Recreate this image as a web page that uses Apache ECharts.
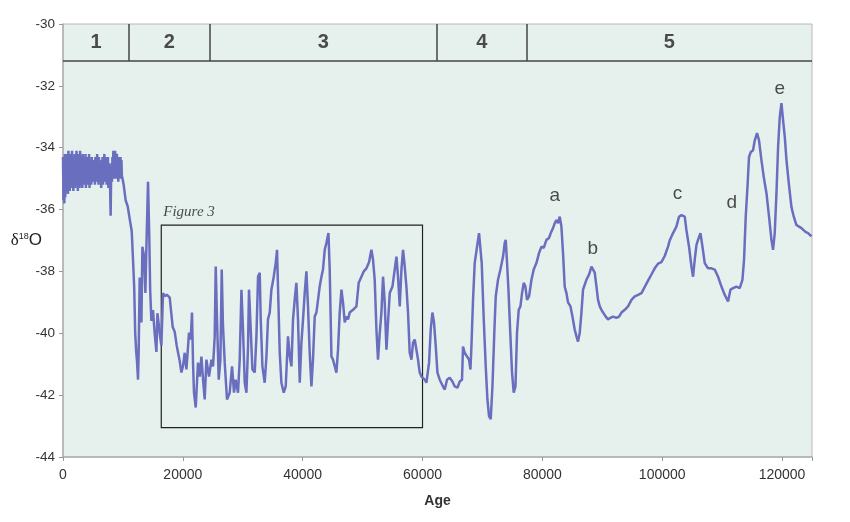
<!DOCTYPE html>
<html>
<head>
<meta charset="utf-8">
<script src="https://cdn.jsdelivr.net/npm/echarts@6/dist/echarts.min.js"></script>
<style>
html,body{margin:0;padding:0;background:#fff;}
#chart{width:850px;height:522px;}
</style>
</head>
<body>
<div id="chart"></div>
<script>
// Age (years) vs d18O record
const record = [
[0,-34.3],[75,-35.7],[150,-34.4],[225,-35.8],[300,-34.2],[375,-35.6],[450,-34.5],[525,-35.4],[600,-34.2],[675,-35.3],
[750,-34.4],[825,-35.5],[900,-34.1],[975,-35.2],[1050,-34.3],[1125,-35.4],[1200,-34.2],[1275,-35.1],[1350,-34.5],[1425,-35.3],
[1500,-34.1],[1575,-35.0],[1650,-34.3],[1725,-35.4],[1800,-34.4],[1875,-35.2],[1950,-34.2],[2025,-35.3],[2100,-34.5],[2175,-35.0],
[2250,-34.1],[2325,-35.2],[2400,-34.3],[2475,-35.4],[2550,-34.2],[2625,-35.1],[2700,-34.4],[2775,-35.3],[2850,-34.1],[2925,-35.0],
[3000,-34.3],[3075,-35.2],[3150,-34.5],[3225,-35.3],[3300,-34.2],[3375,-35.0],[3450,-34.4],[3525,-35.2],[3600,-34.3],[3675,-35.1],
[3750,-34.2],[3825,-35.3],[3900,-34.5],[3975,-35.0],[4050,-34.3],[4125,-35.2],[4200,-34.4],[4275,-35.1],[4350,-34.2],[4425,-35.3],
[4500,-34.6],[4575,-35.0],[4650,-34.4],[4725,-35.2],[4800,-34.3],[4875,-34.9],[4950,-34.5],[5025,-35.1],[5100,-34.4],[5175,-35.0],
[5250,-34.6],[5325,-35.2],[5400,-34.3],[5475,-34.9],[5550,-34.5],[5625,-35.1],[5700,-34.2],[5775,-35.0],[5850,-34.4],[5925,-35.2],
[6000,-34.3],[6075,-34.9],[6150,-34.5],[6225,-35.1],[6300,-34.6],[6375,-35.3],[6450,-34.4],[6525,-35.0],[6600,-34.3],[6675,-35.2],
[6750,-34.5],[6825,-34.9],[6900,-34.2],[6975,-35.1],[7050,-34.4],[7125,-35.0],[7200,-34.3],[7275,-35.2],[7350,-34.5],[7425,-35.0],
[7500,-34.3],[7575,-35.3],[7650,-34.5],[7725,-35.1],[7800,-34.6],[7875,-35.4],[7950,-36.2],[8025,-35.0],[8100,-34.5],[8175,-35.1],
[8250,-34.3],[8325,-35.0],[8400,-34.1],[8475,-34.9],[8550,-34.2],[8625,-35.0],[8700,-34.1],[8775,-34.8],[8850,-34.3],[8925,-35.0],
[9000,-34.2],[9075,-34.9],[9150,-34.4],[9225,-35.1],[9300,-34.3],[9375,-34.9],[9450,-34.4],[9525,-35.0],[9600,-34.3],[9675,-34.8],
[9750,-34.4],[9825,-34.9],
[10130,-35.2],[10460,-35.7],[10800,-35.9],[11130,-36.3],[11470,-36.7],[11680,-37.6],[11880,-38.5],[12050,-40.0],[12220,-40.6],
[12350,-40.9],[12520,-41.5],[12630,-40.6],[12800,-38.2],[13090,-39.65],[13250,-37.2],[13520,-37.5],[13750,-38.7],[13920,-37.2],[14190,-35.1],
[14390,-36.8],[14550,-38.6],[14750,-39.6],[15020,-39.25],[15300,-40.0],[15590,-40.6],[15760,-39.35],[15970,-39.7],[16140,-40.0],[16420,-40.4],
[16690,-38.7],[16970,-38.8],[17310,-38.75],[17810,-38.85],[18310,-39.8],[18640,-39.95],[18980,-40.4],[19480,-40.9],[19760,-41.27],[20030,-41.06],
[20310,-40.63],[20600,-41.17],[21030,-39.98],[21310,-40.2],[21530,-39.33],[21700,-40.95],[21860,-41.92],[22150,-42.4],[22530,-40.95],[22820,-41.4],
[23100,-40.75],[23370,-41.5],[23650,-42.14],[23930,-40.85],[24370,-41.4],[24770,-40.85],[25040,-41.07],[25320,-40.1],[25490,-37.84],[25700,-39.55],
[25990,-41.5],[26270,-40.85],[26490,-37.94],[26700,-39.77],[26990,-40.95],[27370,-42.14],[27820,-41.92],[28210,-41.07],[28540,-41.92],[28820,-41.5],
[29210,-41.92],[29490,-40.85],[29780,-38.59],[30040,-39.88],[30330,-41.6],[30610,-41.92],[30880,-40.43],[31040,-38.59],[31330,-39.88],[31610,-41.17],
[32000,-41.27],[32280,-40.1],[32550,-38.17],[32830,-38.04],[33000,-39.55],[33280,-41.07],[33660,-41.6],[33950,-40.75],[34210,-39.55],[34500,-39.33],
[34780,-38.59],[35170,-38.17],[35500,-37.73],[35720,-37.3],[35880,-38.49],[36170,-40.63],[36450,-41.6],[36840,-41.92],[37170,-41.72],[37550,-40.1],
[37840,-40.75],[38120,-41.07],[38390,-39.55],[38720,-38.81],[38950,-38.37],[39220,-39.55],[39510,-41.6],[39790,-40.3],[40060,-39.55],[40340,-38.7],
[40620,-38.0],[40890,-39.13],[41170,-40.63],[41460,-41.72],[41720,-40.85],[42010,-39.46],[42290,-39.33],[42560,-39.33],[42840,-38.49],[43130,-38.17],
[43390,-37.94],[43680,-37.3],[43960,-37.08],[44300,-36.76],[44510,-37.94],[44800,-40.75],[45060,-40.85],[45350,-40.85],[45630,-41.27],[45900,-40.53],
[46180,-39.33],[46470,-38.59],[46730,-39.0],[47020,-39.65],[47300,-39.46],[47570,-39.55],[47850,-39.33],[48130,-39.3],[48400,-39.24],[48970,-39.13],
[49350,-38.37],[49800,-38.17],[50190,-38.0],[50640,-37.9],[51070,-37.7],[51470,-37.3],[51740,-37.62],[52020,-38.27],[52310,-39.88],[52570,-40.85],
[52860,-40.0],[53140,-39.33],[53410,-38.17],[53690,-39.0],[53980,-40.53],[54240,-39.65],[54530,-38.7],[54980,-38.49],[55360,-37.94],[55650,-37.52],
[55910,-38.17],[56200,-39.13],[56480,-37.94],[56750,-37.3],[57030,-37.84],[57310,-38.49],[57580,-39.33],[57860,-40.63],[58150,-40.85],[58420,-40.3],
[58700,-40.2],[58980,-40.53],[59250,-40.85],[59530,-41.27],[59820,-41.4],[60370,-41.5],[60650,-41.6],[61090,-40.95],[61370,-39.88],[61650,-39.33],
[61920,-39.65],[62210,-40.43],[62490,-41.27],[62870,-41.5],[63420,-41.72],[63710,-41.82],[64090,-41.5],[64540,-41.44],[64990,-41.56],[65380,-41.72],
[65830,-41.76],[66210,-41.56],[66590,-41.5],[66760,-40.43],[67040,-40.63],[67430,-40.75],[67760,-40.85],[68000,-41.17],[68160,-40.43],[68430,-38.92],
[68710,-37.73],[69100,-37.2],[69430,-36.76],[69660,-36.72],[69880,-37.73],[70220,-39.55],[70550,-41.07],[70830,-42.14],[71100,-42.68],[71380,-42.78],
[71670,-41.72],[72000,-39.88],[72220,-38.81],[72600,-38.27],[73000,-37.94],[73440,-37.52],[73720,-37.08],[73890,-36.98],[74110,-37.73],[74340,-38.59],
[74670,-40.1],[74940,-41.27],[75220,-41.92],[75510,-41.72],[75770,-39.98],[76060,-39.24],[76340,-39.13],[76610,-38.7],[76890,-38.37],[77170,-38.49],
[77440,-38.92],[77780,-38.81],[78180,-38.27],[78560,-37.94],[79010,-37.73],[79440,-37.41],[79850,-37.2],[80230,-37.24],[80680,-36.98],[81110,-36.92],
[81400,-36.76],[81780,-36.6],[82070,-36.44],[82350,-36.34],[82620,-36.44],[82900,-36.23],[83180,-36.55],[83450,-37.41],[83730,-38.49],[84020,-38.7],
[84280,-39.0],[84690,-39.13],[85020,-39.46],[85400,-39.88],[85690,-40.1],[85950,-40.27],[86240,-39.98],[86520,-39.33],[86790,-38.59],[87070,-38.43],
[87350,-38.27],[87620,-38.17],[87900,-38.04],[88190,-37.84],[88460,-37.78],[88740,-38.04],[89030,-38.49],[89290,-38.92],[89580,-39.13],[89860,-39.24],
[90130,-39.33],[90580,-39.46],[90960,-39.55],[91360,-39.5],[91800,-39.46],[92360,-39.5],[92800,-39.46],[93200,-39.33],[93750,-39.24],[94300,-39.13],
[94870,-38.92],[95420,-38.81],[95970,-38.76],[96540,-38.7],[97090,-38.5],[97640,-38.3],[98200,-38.1],[98750,-37.9],[99310,-37.75],[99870,-37.7],
[100420,-37.5],[100970,-37.2],[101250,-37.0],[101810,-36.76],[102370,-36.55],[102810,-36.23],[103210,-36.18],[103480,-36.12],[103760,-36.23],[104040,-36.66],
[104480,-37.2],[104880,-37.84],[105150,-38.17],[105430,-37.62],[105720,-37.14],[105980,-36.98],[106380,-36.76],[106720,-37.2],[107100,-37.73],[107650,-37.9],
[108220,-37.9],[108770,-37.94],[109320,-38.17],[109890,-38.49],[110440,-38.76],[110990,-38.97],[111390,-38.59],[111830,-38.54],[112390,-38.49],[112940,-38.54],
[113390,-38.27],[113660,-37.62],[113940,-36.23],[114230,-35.27],[114490,-34.3],[114780,-34.14],[115160,-34.08],[115450,-33.76],[115830,-33.53],[116160,-33.76],
[116560,-34.4],[116950,-34.95],[117400,-35.47],[117830,-36.23],[118230,-36.98],[118500,-37.3],[118780,-36.76],[119070,-35.47],[119340,-33.98],[119620,-33.01],
[119900,-32.56],[120170,-33.11],[120460,-33.66],[120740,-34.4],[121120,-35.14],[121570,-35.92],[121960,-36.23],[122400,-36.5],[122840,-36.55],[123240,-36.6],
[123510,-36.55],[123910,-36.72],[124340,-36.76],[124910,-36.87]
];

// Stage band
const stageBounds = [11000, 24500, 62400, 77400];
const stageEdges = [0, 11000, 24500, 62400, 77400, 125000];
const stageNames = ['1', '2', '3', '4', '5'];
const bandTop = -30;
const bandBottom = -31.2;

// Figure 3 box
const figBox = { x0: 16400, x1: 60000, y0: -36.5, y1: -43.05 };
const figLabel = 'Figure 3';

// Peak annotations
const peakLabels = ['a', 'b', 'c', 'd', 'e'];
const peakPos = [[82060, -35.55], [88410, -37.27], [102570, -35.5], [111610, -35.79], [119620, -32.1]];

const xTicks = [0, 20000, 40000, 60000, 80000, 100000, 120000];

const chart = echarts.init(document.getElementById('chart'));

const stageLabelData = stageNames.map((n, i) => ({
  name: n, value: [(stageEdges[i] + stageEdges[i + 1]) / 2, (bandTop + bandBottom) / 2]
}));
const peakData = peakLabels.map((n, i) => ({ name: n, value: peakPos[i] }));

const bandLines = [[{ coord: [0, bandBottom] }, { coord: [125000, bandBottom] }]]
  .concat(stageBounds.map(b => [{ coord: [b, bandTop] }, { coord: [b, bandBottom] }]));

chart.setOption({
  animation: false,
  backgroundColor: '#ffffff',
  grid: {
    left: 63, right: 38, top: 24, bottom: 65,
    containLabel: false, outerBoundsMode: 'none',
    show: true, backgroundColor: '#e6f1ee', borderColor: '#b8b8b8', borderWidth: 1
  },
  xAxis: {
    type: 'value', min: 0, max: 125000, interval: 20000,
    name: 'Age', nameLocation: 'middle', nameGap: 37,
    nameTextStyle: { fontFamily: 'Liberation Sans, Arial', fontSize: 14, fontWeight: 'bold', color: '#333' },
    axisLine: { show: true, lineStyle: { color: '#b0b0b0', width: 1.5 } },
    axisTick: { show: true, length: 4, lineStyle: { color: '#999' } },
    axisLabel: {
      margin: 11, color: '#333', fontFamily: 'Liberation Sans, Arial', fontSize: 14,
      formatter: v => (xTicks.indexOf(v) >= 0 ? String(v) : '')
    },
    splitLine: { show: false }
  },
  yAxis: {
    type: 'value', min: -44, max: -30, interval: 2,
    name: '{d|δ}{s|18}{o|O}', nameLocation: 'middle', nameGap: 21, nameRotate: 0,
    nameMoveOverlap: false,
    nameTextStyle: {
      rich: {
        d: { fontFamily: 'Liberation Serif, Times New Roman', fontSize: 17, color: '#222', verticalAlign: 'bottom' },
        s: { fontFamily: 'Liberation Sans, Arial', fontSize: 9, color: '#222', verticalAlign: 'top', padding: [0, 0, 8, 0] },
        o: { fontFamily: 'Liberation Sans, Arial', fontSize: 17, color: '#222', verticalAlign: 'bottom' }
      }
    },
    axisLine: { show: true, lineStyle: { color: '#b0b0b0', width: 1.5 } },
    axisTick: { show: true, length: 4, lineStyle: { color: '#999' } },
    axisLabel: { margin: 8, color: '#333', fontFamily: 'Liberation Sans, Arial', fontSize: 13.5 },
    splitLine: { show: false }
  },
  series: [
    {
      type: 'line', data: record, showSymbol: false, symbol: 'none',
      lineStyle: { color: '#6a6ebf', width: 2.5 }, z: 3,
      markArea: {
        silent: true,
        itemStyle: { color: 'rgba(0,0,0,0)', borderColor: '#222', borderWidth: 1.2 },
        label: { show: false },
        data: [[{ coord: [figBox.x0, figBox.y0] }, { coord: [figBox.x1, figBox.y1] }]]
      },
      markLine: {
        silent: true, symbol: 'none',
        lineStyle: { color: '#444', width: 1.5, type: 'solid' },
        label: { show: false },
        data: bandLines
      }
    },
    {
      type: 'scatter', symbolSize: 0, silent: true, z: 4,
      data: stageLabelData,
      label: {
        show: true, position: 'inside', formatter: '{b}',
        fontFamily: 'Liberation Sans, Arial', fontWeight: 'bold', fontSize: 20, color: '#222'
      }
    },
    {
      type: 'scatter', symbolSize: 0, silent: true, z: 4,
      data: peakData,
      label: {
        show: true, position: 'inside', formatter: '{b}',
        fontFamily: 'Liberation Sans, Arial', fontSize: 19, color: '#222'
      }
    },
    {
      type: 'scatter', symbolSize: 0, silent: true, z: 4,
      data: [{ name: figLabel, value: [figBox.x0, figBox.y0] }],
      label: {
        show: true, position: 'insideBottomLeft', formatter: '{b}', offset: [-3, 0],
        fontFamily: 'Liberation Serif, Times New Roman', fontStyle: 'italic', fontSize: 15, color: '#222'
      }
    }
  ]
});
</script>
</body>
</html>
